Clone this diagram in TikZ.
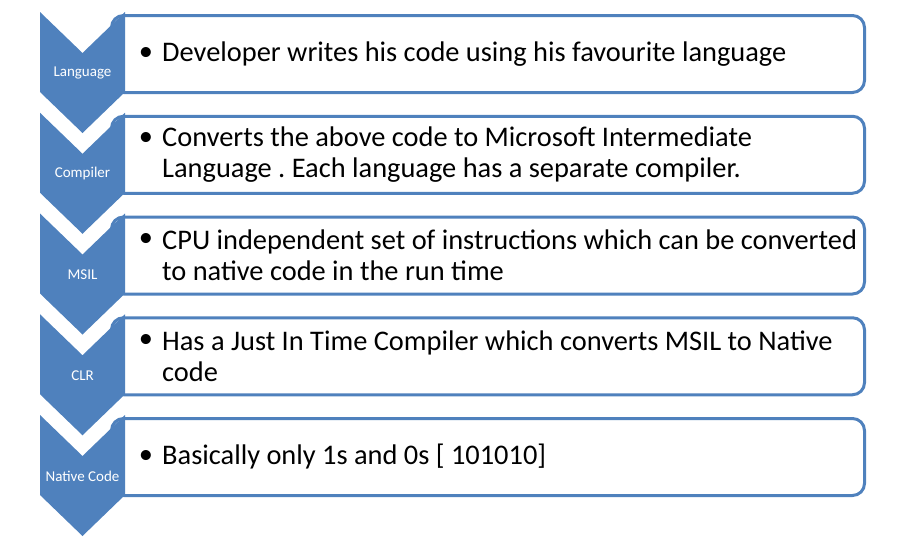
\documentclass[tikz,border=0pt]{standalone}
\usepackage{fontspec}
\setmainfont{Carlito}
\frenchspacing
\definecolor{smartblue}{HTML}{4F81BD}
\tikzset{
	chev/.style={fill=smartblue, draw=none},
	stagebox/.style={draw=smartblue, line width=3pt, rounded corners=12pt, fill=white, anchor=north west, minimum width=753pt, minimum height=77pt},
	stagelabel/.style={text=white, font=\fontsize{15}{17}\selectfont},
	dotmark/.style={font=\fontsize{28.4}{31}\selectfont, inner sep=0pt},
	itemtext/.style={anchor=west, align=left, inner sep=0pt, font=\fontsize{28.4}{31}\selectfont}
}

\begin{document}
\begin{tikzpicture}[x=1pt, y=-1pt]
	\useasboundingbox (0,0) rectangle (909,552);
	\foreach \i/\n/\lab/\txt [evaluate=\i as \t using 12+100.75*\i] in {
		0/1/Language/{Developer writes his code using his favourite language},
		1/2/Compiler/{Converts the above code to Microsoft Intermediate\\Language . Each language has a separate compiler.},
		2/2/MSIL/{CPU independent set of instructions which can be converted\\to native code in the run time},
		3/2/CLR/{Has a Just In Time Compiler which converts MSIL to Native\\code},
		4/1/Native Code/{Basically only 1s and 0s [ 101010]}}
	{
		\node (box\i) [stagebox] at (110, \t+2) {};
		\draw [chev] (40,\t) -- (82.5,\t+41) -- (125,\t) -- (125,\t+80) -- (82.5,\t+121) -- (40,\t+80) -- cycle;
		\node (lab\i) [stagelabel] at (82.5, \t+61) {\lab};
		\node (dot\i) [dotmark] at (146, \t+42-15.5*\n+15.5) {\textbullet};
		\node (txt\i) [itemtext] at (162, \t+42) {\txt};
	}
\end{tikzpicture}
\end{document}
